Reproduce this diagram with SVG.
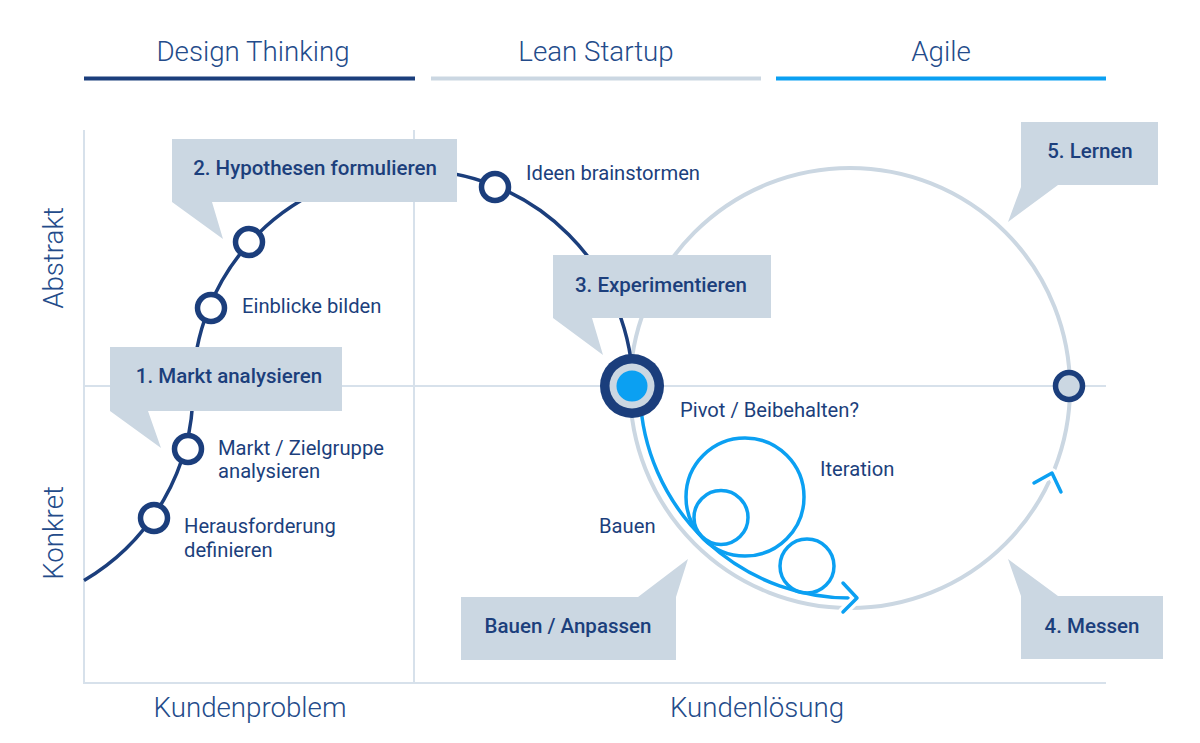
<svg xmlns="http://www.w3.org/2000/svg" width="1200" height="743" viewBox="0 0 1200 743">
<defs>
<style>
.hdr{font-family:Roboto,"Liberation Sans",sans-serif;font-weight:300;font-size:27.7px;fill:#234b8a;text-anchor:middle}
.lbl{font-family:Roboto,"Liberation Sans",sans-serif;font-weight:400;font-size:20.2px;fill:#1c3f7c}
.cal{font-family:Roboto,"Liberation Sans",sans-serif;font-weight:500;font-size:20.5px;fill:#1c3f7c;text-anchor:middle}
.box{fill:#cbd7e2}
.grid{stroke:#d7e1eb;stroke-width:2;fill:none}
.node{fill:#ffffff;stroke:#1b3e7c;stroke-width:5.5}
.blue{fill:none;stroke:#0ba0f2;stroke-width:3.5;stroke-linecap:round;stroke-linejoin:round}
.halo{fill:none;stroke:#ffffff;stroke-width:10;stroke-linecap:round;stroke-linejoin:round}
</style>
</defs>
<rect width="1200" height="743" fill="#ffffff"/>

<g id="headers">
<text class="hdr" x="253" y="61">Design Thinking</text>
<line x1="84" y1="78.5" x2="415" y2="78.5" stroke="#1b3e7c" stroke-width="4"/>
<text class="hdr" x="596" y="61">Lean Startup</text>
<line x1="431" y1="78.5" x2="761" y2="78.5" stroke="#cbd7e2" stroke-width="4"/>
<text class="hdr" x="941" y="61">Agile</text>
<line x1="776" y1="78.5" x2="1106" y2="78.5" stroke="#0ba0f2" stroke-width="4"/>
</g>

<g id="grid">
<line class="grid" x1="84" y1="130" x2="84" y2="683"/>
<line class="grid" x1="414" y1="130" x2="414" y2="683"/>
<line class="grid" x1="84" y1="386" x2="1106" y2="386"/>
<line class="grid" x1="83" y1="683" x2="1106" y2="683"/>
</g>

<g id="axes">
<text class="hdr" transform="translate(63,258) rotate(-90)">Abstrakt</text>
<text class="hdr" transform="translate(63,533) rotate(-90)">Konkret</text>
<text class="hdr" x="250" y="717">Kundenproblem</text>
<text class="hdr" x="757" y="717">Kundenlösung</text>
</g>

<g id="connectors">
<circle cx="850" cy="388" r="220" fill="none" stroke="#cbd7e2" stroke-width="4"/>
<path class="blue" d="M640.1,395.3 A210,210 0 0,0 857.3,597.9"/>
<circle class="blue" cx="745" cy="497" r="59"/>
<circle class="blue" cx="721" cy="517.5" r="27"/>
<circle class="blue" cx="807" cy="566" r="27"/>
<path class="halo" d="M843,583 L857,598 L843,612"/>
<path class="blue" d="M843,583 L857,598 L843,612"/>
<path class="halo" d="M1034,483 L1052,473 L1061,492"/>
<path class="blue" d="M1034,483 L1052,473 L1061,492"/>
<path d="M84,580.5 A221,221 0 0,0 193,390 A220,220 0 0,1 413,170 A220,220 0 0,1 633,390" fill="none" stroke="#1b3e7c" stroke-width="3.5"/>
</g>

<g id="callout-1">
<path class="box" d="M110,347 H342 V411 H148 L161,448 L110,411 Z"/>
<text class="cal" x="229" y="383">1. Markt analysieren</text>
</g>
<g id="callout-2">
<path class="box" d="M172,139 H457 V202 H212 L223,239 L172,202 Z"/>
<text class="cal" x="315" y="175">2. Hypothesen formulieren</text>
</g>
<g id="callout-3">
<path class="box" d="M553,255 H771 V318 H592 L603,355 L553,318 Z"/>
<text class="cal" x="661" y="292">3. Experimentieren</text>
</g>
<g id="callout-4">
<path class="box" d="M1021,596 L1008,559 L1058,596 H1163 V659 H1021 Z"/>
<text class="cal" x="1092" y="633">4. Messen</text>
</g>
<g id="callout-5">
<path class="box" d="M1021,122 H1158 V185 H1058 L1008,222 L1021,187 Z"/>
<text class="cal" x="1090" y="158">5. Lernen</text>
</g>
<g id="callout-bauen">
<path class="box" d="M461,597 H638 L688,559 L676,597 V660 H461 Z"/>
<text class="cal" x="568" y="633">Bauen / Anpassen</text>
</g>

<g id="node-herausforderung">
<circle class="node" cx="154" cy="518" r="13.5"/>
<text class="lbl" x="184" y="533">Herausforderung</text>
<text class="lbl" x="184" y="557">definieren</text>
</g>
<g id="node-markt">
<circle class="node" cx="188" cy="449" r="13.5"/>
<text class="lbl" x="218" y="455">Markt / Zielgruppe</text>
<text class="lbl" x="218" y="478">analysieren</text>
</g>
<g id="node-einblicke">
<circle class="node" cx="211" cy="308" r="13.5"/>
<text class="lbl" x="242" y="313">Einblicke bilden</text>
</g>
<g id="node-hypothese">
<circle class="node" cx="249" cy="242" r="13.5"/>
</g>
<g id="node-ideen">
<circle class="node" cx="495" cy="187" r="13.5"/>
<text class="lbl" x="526" y="180">Ideen brainstormen</text>
</g>
<g id="node-pivot">
<circle cx="632" cy="386" r="32" fill="#1b3e7c"/>
<circle cx="632" cy="386" r="22.5" fill="#cbd7e2"/>
<circle cx="632" cy="386" r="15.5" fill="#0ba0f2"/>
<text class="lbl" x="680" y="417">Pivot / Beibehalten?</text>
</g>
<g id="node-messen">
<circle cx="1069" cy="386" r="13.5" fill="#cbd7e2" stroke="#1b3e7c" stroke-width="5.5"/>
</g>
<g id="labels">
<text class="lbl" x="820" y="476">Iteration</text>
<text class="lbl" x="599" y="533">Bauen</text>
</g>
</svg>
